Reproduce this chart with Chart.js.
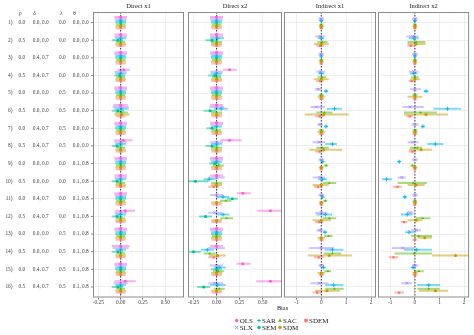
<!DOCTYPE html>
<html lang="en">
<head>
  <meta charset="UTF-8">
  <title>Bias of direct and indirect effects</title>
  <script src="https://cdn.jsdelivr.net/npm/chart.js@4.4.1/dist/chart.umd.min.js"></script>
  <style>
    html, body { margin: 0; padding: 0; background: #ffffff; }
    #wrap { position: relative; width: 474px; height: 335px; overflow: hidden; }
    #wrap canvas { position: absolute; left: 0; top: 0; }
  </style>
</head>
<body>
  <div id="wrap">
    <canvas id="p0" width="474" height="335"></canvas>
    <canvas id="p1" width="474" height="335"></canvas>
    <canvas id="p2" width="474" height="335"></canvas>
    <canvas id="p3" width="474" height="335"></canvas>
  </div>

  <script>
    const models = ["OLS", "SLX", "SAR", "SEM", "SAC", "SDM", "SDEM"];
    const modelColors = ["#FB61D7", "#A58AFF", "#00B6EB", "#00C094", "#53B400", "#C49A00", "#F8766D"];
    const modelShapes = ["circle", "crossRot", "cross", "circle", "triangle", "circle", "rect"];

    const rowIds = ["1)", "2)", "3)", "4)", "5)", "6)", "7)", "8)", "9)", "10)", "11)", "12)", "13)", "14)", "15)", "16)"];
    const rhoLabels = ["0.0", "0.5", "0.0", "0.5", "0.0", "0.5", "0.0", "0.5", "0.0", "0.5", "0.0", "0.5", "0.0", "0.5", "0.0", "0.5"];
    const deltaLabels = ["0.0, 0.0", "0.0, 0.0", "0.4, 0.7", "0.4, 0.7", "0.0, 0.0", "0.0, 0.0", "0.4, 0.7", "0.4, 0.7",
                         "0.0, 0.0", "0.0, 0.0", "0.4, 0.7", "0.4, 0.7", "0.0, 0.0", "0.0, 0.0", "0.4, 0.7", "0.4, 0.7"];
    const lambdaLabels = ["0.0", "0.0", "0.0", "0.0", "0.5", "0.5", "0.5", "0.5", "0.0", "0.0", "0.0", "0.0", "0.5", "0.5", "0.5", "0.5"];
    const thetaLabels = ["0.0, 0.0", "0.0, 0.0", "0.0, 0.0", "0.0, 0.0", "0.0, 0.0", "0.0, 0.0", "0.0, 0.0", "0.0, 0.0",
                         "0.1, 0.8", "0.1, 0.8", "0.1, 0.8", "0.1, 0.8", "0.1, 0.8", "0.1, 0.8", "0.1, 0.8", "0.1, 0.8"];
    const headerLabels = ["ρ", "δ", "λ", "θ"];

    const panelTitles = ["Direct x1", "Direct x2", "Indirect x1", "Indirect x2"];
    const directTicks = [-0.25, 0, 0.25, 0.5];
    const indirectTicks = [-1, 0, 1, 2];

    // rows are models (OLS..SDEM), columns are scenarios 1-16
    const dx1Est = [
      [0, 0, 0, 0.035, 0, 0, 0, 0.03, 0, 0, 0, 0.05, 0, 0, 0, 0.05],
      [0, 0, 0, 0, 0, 0, 0, 0, 0, 0, 0, 0, 0, 0, 0, 0],
      [0, 0, 0, 0, 0, 0.01, 0, 0, 0, 0, 0, 0, 0, 0, 0, 0],
      [0, -0.03, 0, -0.01, 0, -0.03, 0, -0.04, 0, -0.04, 0, -0.04, 0, -0.03, 0, -0.03],
      [0, 0, 0, 0, 0, 0.01, 0, 0, 0, 0, 0, 0, 0, 0, 0, 0],
      [0, 0, 0, 0, 0, 0.01, 0, 0, 0, 0, 0, 0, 0, 0, 0, 0],
      [0, 0, 0, 0, 0, 0, 0, 0, 0, 0, 0, 0, 0, 0, 0, 0]
    ];
    const dx1Lo = [
      [-0.07, -0.07, -0.07, -0.035, -0.07, -0.08, -0.07, -0.07, -0.07, -0.07, -0.07, -0.06, -0.07, -0.1, -0.07, -0.07],
      [-0.07, -0.07, -0.07, -0.07, -0.07, -0.09, -0.07, -0.07, -0.07, -0.07, -0.07, -0.07, -0.07, -0.09, -0.07, -0.08],
      [-0.06, -0.06, -0.06, -0.06, -0.06, -0.07, -0.06, -0.06, -0.06, -0.06, -0.06, -0.06, -0.06, -0.06, -0.06, -0.06],
      [-0.06, -0.1, -0.06, -0.07, -0.06, -0.1, -0.06, -0.1, -0.06, -0.1, -0.06, -0.1, -0.06, -0.1, -0.06, -0.1],
      [-0.05, -0.05, -0.05, -0.05, -0.05, -0.06, -0.05, -0.05, -0.05, -0.05, -0.05, -0.05, -0.05, -0.05, -0.05, -0.05],
      [-0.06, -0.06, -0.06, -0.06, -0.06, -0.07, -0.06, -0.06, -0.06, -0.06, -0.06, -0.06, -0.06, -0.06, -0.06, -0.06],
      [-0.055, -0.055, -0.055, -0.055, -0.055, -0.055, -0.055, -0.055, -0.055, -0.055, -0.055, -0.055, -0.055, -0.055, -0.055, -0.055]
    ];
    const dx1Hi = [
      [0.07, 0.07, 0.07, 0.105, 0.07, 0.08, 0.07, 0.13, 0.07, 0.07, 0.07, 0.16, 0.07, 0.1, 0.07, 0.17],
      [0.07, 0.07, 0.07, 0.07, 0.07, 0.09, 0.07, 0.07, 0.07, 0.07, 0.07, 0.07, 0.07, 0.09, 0.07, 0.08],
      [0.06, 0.06, 0.06, 0.06, 0.06, 0.09, 0.06, 0.06, 0.06, 0.06, 0.06, 0.06, 0.06, 0.06, 0.06, 0.06],
      [0.06, 0.03, 0.06, 0.05, 0.06, 0.04, 0.06, 0.02, 0.06, 0.02, 0.06, 0.02, 0.06, 0.03, 0.06, 0.03],
      [0.05, 0.05, 0.05, 0.05, 0.05, 0.08, 0.05, 0.05, 0.05, 0.05, 0.05, 0.05, 0.05, 0.05, 0.05, 0.05],
      [0.06, 0.06, 0.06, 0.06, 0.06, 0.1, 0.06, 0.06, 0.06, 0.06, 0.06, 0.06, 0.06, 0.06, 0.06, 0.06],
      [0.055, 0.055, 0.055, 0.055, 0.055, 0.055, 0.055, 0.055, 0.055, 0.055, 0.055, 0.055, 0.055, 0.055, 0.055, 0.055]
    ];

    const dx2Est = [
      [0, 0, 0, 0.14, 0, 0, 0, 0.14, 0, 0, 0.285, 0.585, 0, 0, 0.285, 0.585],
      [0, 0, 0, 0, 0, 0, 0, 0, 0, 0, 0, -0.02, 0, 0, 0, -0.02],
      [0, 0.01, 0, 0, 0, 0.05, 0, 0, 0, -0.08, 0.07, 0.07, 0, -0.1, 0.03, 0.01],
      [0, -0.05, 0, -0.02, 0, -0.07, -0.05, -0.05, -0.02, -0.23, 0.17, -0.12, 0, -0.25, 0, -0.14],
      [0, 0, 0, 0, 0, 0, 0, 0, 0.02, 0, 0.1, 0.11, 0, -0.075, 0.02, 0.03],
      [0, 0, 0, 0, 0, 0, 0, 0, 0, 0, 0, 0, 0, 0.01, 0, 0],
      [0, 0, 0, 0, 0, 0, 0, 0, 0, -0.03, 0, 0, 0, -0.03, 0, 0]
    ];
    const dx2Lo = [
      [-0.07, -0.07, -0.07, 0.07, -0.07, -0.07, -0.07, 0.04, -0.07, -0.07, 0.22, 0.44, -0.07, -0.07, 0.22, 0.43],
      [-0.07, -0.07, -0.07, -0.07, -0.07, -0.08, -0.07, -0.07, -0.07, -0.09, -0.07, -0.09, -0.07, -0.09, -0.07, -0.09],
      [-0.06, -0.07, -0.06, -0.06, -0.06, -0.03, -0.06, -0.06, -0.06, -0.14, 0, 0, -0.06, -0.17, -0.03, -0.07],
      [-0.06, -0.12, -0.06, -0.09, -0.06, -0.14, -0.11, -0.12, -0.08, -0.3, 0.11, -0.19, -0.06, -0.33, -0.06, -0.21],
      [-0.05, -0.06, -0.05, -0.05, -0.05, -0.06, -0.05, -0.06, -0.04, -0.06, 0.04, 0.04, -0.05, -0.14, -0.04, -0.03],
      [-0.06, -0.06, -0.06, -0.06, -0.06, -0.06, -0.06, -0.06, -0.06, -0.06, -0.06, -0.06, -0.06, -0.08, -0.06, -0.06],
      [-0.055, -0.055, -0.055, -0.055, -0.055, -0.055, -0.055, -0.055, -0.055, -0.09, -0.055, -0.055, -0.055, -0.09, -0.055, -0.055]
    ];
    const dx2Hi = [
      [0.07, 0.07, 0.07, 0.22, 0.07, 0.07, 0.07, 0.27, 0.07, 0.07, 0.37, 0.73, 0.07, 0.07, 0.37, 0.73],
      [0.07, 0.07, 0.07, 0.07, 0.07, 0.08, 0.07, 0.07, 0.07, 0.09, 0.07, 0.06, 0.07, 0.09, 0.07, 0.07],
      [0.06, 0.08, 0.06, 0.06, 0.06, 0.12, 0.06, 0.06, 0.06, -0.01, 0.14, 0.14, 0.06, -0.03, 0.1, 0.1],
      [0.06, 0.02, 0.06, 0.05, 0.06, 0, 0.01, 0.02, 0.04, -0.09, 0.23, -0.05, 0.06, -0.17, 0.06, -0.07],
      [0.05, 0.06, 0.05, 0.05, 0.05, 0.06, 0.05, 0.06, 0.08, 0.06, 0.16, 0.18, 0.05, -0.01, 0.08, 0.09],
      [0.06, 0.06, 0.06, 0.06, 0.06, 0.06, 0.06, 0.06, 0.06, 0.06, 0.06, 0.06, 0.06, 0.1, 0.06, 0.06],
      [0.055, 0.055, 0.055, 0.055, 0.055, 0.055, 0.055, 0.055, 0.055, 0.03, 0.055, 0.055, 0.055, 0.03, 0.055, 0.055]
    ];

    // OLS and SEM have no indirect effects
    const ix1Est = [
      null,
      [0, -0.05, 0, -0.03, -0.13, -0.2, -0.05, -0.1, 0, -0.05, 0, 0, -0.05, 0, 0, -0.1],
      [0, 0, 0, 0, 0.19, 0.53, 0.19, 0.45, 0.05, 0.05, 0.05, 0.16, 0.15, 0.45, 0.09, 0.5],
      null,
      [0, 0.05, 0, 0.03, 0, 0.13, 0, 0.05, 0.19, 0.32, 0.16, 0.32, 0.29, 0.45, 0.27, 0.53],
      [0, 0, 0, 0, 0, 0.1, 0, 0.1, 0, 0, 0, 0, 0, 0.32, 0, 0.23],
      [0, -0.05, 0, -0.05, 0, -0.07, 0, -0.07, 0, -0.13, 0, -0.08, 0, -0.1, 0, -0.17]
    ];
    const ix1Lo = [
      null,
      [-0.12, -0.25, -0.12, -0.2, -0.25, -0.44, -0.15, -0.35, -0.12, -0.35, -0.12, -0.25, -0.2, -0.5, -0.12, -0.44],
      [-0.07, -0.12, -0.07, -0.12, 0.12, 0.23, 0.12, 0.16, -0.02, -0.13, -0.02, -0.2, 0.08, 0.13, 0.02, 0.16],
      null,
      [-0.08, -0.15, -0.08, -0.15, -0.1, -0.2, -0.1, -0.2, 0.1, 0.05, 0.08, 0.05, 0.12, 0.1, 0.12, 0.16],
      [-0.1, -0.3, -0.1, -0.3, -0.15, -0.67, -0.15, -0.47, -0.1, -0.35, -0.1, -0.35, -0.15, -0.53, -0.15, -0.25],
      [-0.08, -0.2, -0.08, -0.2, -0.1, -0.25, -0.1, -0.25, -0.08, -0.3, -0.08, -0.25, -0.1, -0.3, -0.1, -0.35]
    ];
    const ix1Hi = [
      null,
      [0.12, 0.15, 0.12, 0.15, 0, 0.16, 0.05, 0.15, 0.12, 0.15, 0.12, 0.25, 0.1, 0.5, 0.12, 0.29],
      [0.07, 0.12, 0.07, 0.12, 0.26, 0.83, 0.26, 0.63, 0.12, 0.23, 0.12, 0.43, 0.22, 0.89, 0.16, 0.89],
      null,
      [0.08, 0.25, 0.08, 0.2, 0.1, 0.45, 0.1, 0.3, 0.28, 0.6, 0.24, 0.6, 0.45, 0.8, 0.4, 0.9],
      [0.1, 0.3, 0.1, 0.3, 0.15, 1.1, 0.15, 0.83, 0.1, 0.3, 0.1, 0.4, 0.15, 1.23, 0.15, 0.75],
      [0.08, 0.1, 0.08, 0.1, 0.1, 0.1, 0.1, 0.1, 0.08, 0.05, 0.08, 0.08, 0.1, 0.1, 0.1, 0.02]
    ];

    const ix2Est = [
      null,
      [0, -0.1, 0, -0.05, 0, -0.2, 0, -0.1, 0, -0.53, 0, -0.2, 0.05, -0.5, 0, -0.33],
      [0, -0.05, 0, -0.05, 0.45, 1.32, 0.32, 0.83, -0.64, -1.15, -0.41, -0.31, -0.24, 0.07, -0.07, 0.56],
      null,
      [0, 0.05, 0, 0, 0, 0.23, 0, 0.1, -0.1, -0.07, 0, 0.32, 0.16, -0.04, 0.16, 0.56],
      [0, 0.05, 0, 0, 0, 0.45, 0, 0.25, 0, 0.05, 0, 0.05, 0.4, 1.65, 0, 0.83],
      [0, -0.17, 0, -0.13, 0, -0.21, 0, -0.1, 0, -0.71, 0, -0.44, 0, -0.87, 0, -0.64]
    ];
    const ix2Lo = [
      null,
      [-0.12, -0.35, -0.12, -0.25, -0.2, -0.5, -0.15, -0.3, -0.12, -0.7, -0.12, -0.35, -0.15, -0.93, -0.12, -0.57],
      [-0.07, -0.25, -0.07, -0.2, 0.36, 0.76, 0.25, 0.5, -0.7, -1.33, -0.48, -0.57, -0.4, -0.44, -0.15, 0.09],
      null,
      [-0.08, -0.3, -0.08, -0.15, -0.1, -0.44, -0.1, -0.2, -0.18, -0.7, -0.08, 0.03, -0.17, -0.83, -0.04, 0.1],
      [-0.1, -0.3, -0.1, -0.2, -0.3, -0.44, -0.1, -0.24, -0.1, -0.3, -0.1, -0.3, 0.1, 0.7, -0.1, 0.16],
      [-0.08, -0.3, -0.08, -0.25, -0.1, -0.35, -0.1, -0.25, -0.08, -0.9, -0.08, -0.57, -0.1, -1.07, -0.1, -0.83]
    ];
    const ix2Hi = [
      null,
      [0.12, 0.15, 0.12, 0.15, 0.25, 0.36, 0.15, 0.15, 0.12, -0.37, 0.12, -0.05, 0.25, -0.04, 0.15, -0.1],
      [0.07, 0.15, 0.07, 0.1, 0.56, 1.87, 0.4, 1.15, -0.58, -0.93, -0.34, -0.1, -0.04, 0.69, 0, 1.03],
      null,
      [0.08, 0.43, 0.08, 0.15, 0.1, 0.89, 0.1, 0.3, -0.02, 0.48, 0.08, 0.63, 0.69, 0.7, 0.36, 1.0],
      [0.1, 0.43, 0.1, 0.2, 0.3, 1.35, 0.1, 0.7, 0.1, 0.4, 0.1, 0.3, 0.7, 2.4, 0.1, 1.35],
      [0.08, -0.04, 0.08, 0.0, 0.1, -0.07, 0.1, 0.05, 0.08, -0.52, 0.08, -0.31, 0.1, -0.67, 0.1, -0.45]
    ];

    // layout of the four facets (pixels)
    const panelBoxes = [
      { left: 93, right: 184 },
      { left: 188, right: 282 },
      { left: 284, right: 376 },
      { left: 378, right: 472 }
    ];
    const panelTop = 12;
    const panelBottom = 297.5;
    const dodgeWidth = 0.75;
    const serif = "'Liberation Serif', 'DejaVu Serif', serif";
    const textGrey = "#3A3A3A";

    function withAlpha(hex, a) {
      const n = parseInt(hex.slice(1), 16);
      return `rgba(${(n >> 16) & 255}, ${(n >> 8) & 255}, ${n & 255}, ${a})`;
    }

    function drawMarker(ctx, shape, color, x, y, r) {
      ctx.save();
      ctx.fillStyle = color;
      ctx.strokeStyle = color;
      ctx.lineWidth = 1;
      ctx.beginPath();
      if (shape === "circle") {
        ctx.arc(x, y, r, 0, Math.PI * 2);
        ctx.fill();
      } else if (shape === "rect") {
        ctx.fillRect(x - r, y - r, 2 * r, 2 * r);
      } else if (shape === "triangle") {
        ctx.moveTo(x, y - r * 1.2);
        ctx.lineTo(x + r * 1.1, y + r * 0.8);
        ctx.lineTo(x - r * 1.1, y + r * 0.8);
        ctx.closePath();
        ctx.fill();
      } else if (shape === "cross") {
        ctx.moveTo(x - r, y); ctx.lineTo(x + r, y);
        ctx.moveTo(x, y - r); ctx.lineTo(x, y + r);
        ctx.stroke();
      } else {
        ctx.moveTo(x - r, y - r); ctx.lineTo(x + r, y + r);
        ctx.moveTo(x - r, y + r); ctx.lineTo(x + r, y - r);
        ctx.stroke();
      }
      ctx.restore();
    }

    const decorPlugin = {
      id: "decor",
      afterDraw(chart, args, opts) {
        const { ctx, chartArea: a } = chart;
        const yScale = chart.scales.y;
        ctx.save();

        // panel border
        ctx.strokeStyle = "#8C8C8C";
        ctx.lineWidth = 1;
        ctx.strokeRect(a.left + 0.5, a.top + 0.5, a.right - a.left - 1, a.bottom - a.top - 1);

        // strip title
        ctx.fillStyle = "#1A1A1A";
        ctx.font = `6.5px ${serif}`;
        ctx.textAlign = "center";
        ctx.textBaseline = "middle";
        ctx.fillText(opts.title, (a.left + a.right) / 2, 6);

        if (opts.rowLabels) {
          ctx.fillStyle = textGrey;
          ctx.font = `5.3px ${serif}`;
          ctx.textBaseline = "middle";
          const hx = [19, 33.3, 60, 73.3];
          ctx.textAlign = "left";
          headerLabels.forEach((h, i) => ctx.fillText(h, hx[i], 13.3));
          rowIds.forEach((id, r) => {
            const y = yScale.getPixelForValue(r + 1);
            ctx.textAlign = "right";
            ctx.fillText(id, 12.5, y);
            ctx.textAlign = "left";
            ctx.fillText(rhoLabels[r], 18.5, y);
            ctx.fillText(deltaLabels[r], 32.8, y);
            ctx.fillText(lambdaLabels[r], 59, y);
            ctx.fillText(thetaLabels[r], 72.8, y);
            ctx.strokeStyle = "#333333";
            ctx.lineWidth = 0.6;
            ctx.beginPath();
            ctx.moveTo(a.left - 2, y);
            ctx.lineTo(a.left, y);
            ctx.stroke();
          });
        }

        if (opts.legend) {
          ctx.fillStyle = "#1A1A1A";
          ctx.font = `6.3px ${serif}`;
          ctx.textAlign = "center";
          ctx.fillText("Bias", 282.5, 308.5);

          const colX = [236.7, 259, 280, 306];
          const rowY = [320.5, 327.5];
          ctx.font = `7px ${serif}`;
          ctx.textAlign = "left";
          models.forEach((m, k) => {
            const col = Math.floor(k / 2);
            const row = k % 2;
            const x = colX[col];
            const y = rowY[row];
            drawMarker(ctx, modelShapes[k], modelColors[k], x, y, 1.7);
            ctx.fillStyle = "#1A1A1A";
            ctx.fillText(m, x + 3, y + 0.3);
          });
        }
        ctx.restore();
      }
    };

    function buildPanel(idx, est, lo, hi, xMin, xMax, majorTicks) {
      const box = panelBoxes[idx];
      const step = dodgeWidth / models.length;
      const minorTicks = [];
      for (let i = 0; i < majorTicks.length - 1; i++) {
        minorTicks.push((majorTicks[i] + majorTicks[i + 1]) / 2);
      }
      minorTicks.push(majorTicks[0] - (majorTicks[1] - majorTicks[0]) / 2);
      minorTicks.push(majorTicks[majorTicks.length - 1] + (majorTicks[1] - majorTicks[0]) / 2);
      const isMajor = v => majorTicks.some(t => Math.abs(t - v) < 1e-9);

      const datasets = [];
      datasets.push({
        type: "line",
        data: [{ x: 0, y: 0.4 }, { x: 0, y: 16.6 }],
        borderColor: "#000000",
        borderWidth: 0.8,
        borderDash: [1.5, 1.5],
        pointRadius: 0,
        order: 2
      });

      models.forEach((m, k) => {
        if (!est[k]) return;
        const yOff = (k - (models.length - 1) / 2) * step;
        const seg = [];
        const pts = [];
        est[k].forEach((v, r) => {
          const y = r + 1 + yOff;
          seg.push({ x: lo[k][r], y: y }, { x: hi[k][r], y: y }, { x: null, y: null });
          pts.push({ x: v, y: y });
        });
        datasets.push({
          type: "line",
          label: m + " interval",
          data: seg,
          borderColor: withAlpha(modelColors[k], 0.5),
          borderWidth: 2,
          pointRadius: 0,
          spanGaps: false,
          order: 3
        });
        const lineStyle = modelShapes[k] === "cross" || modelShapes[k] === "crossRot";
        datasets.push({
          type: "scatter",
          label: m,
          data: pts,
          pointStyle: modelShapes[k],
          pointRadius: lineStyle ? 2 : 1.5,
          backgroundColor: modelColors[k],
          borderColor: modelColors[k],
          borderWidth: lineStyle ? 0.9 : 0,
          order: 1
        });
      });

      return new Chart(document.getElementById("p" + idx), {
        type: "scatter",
        data: { datasets: datasets },
        plugins: [decorPlugin],
        options: {
          responsive: false,
          animation: false,
          events: [],
          layout: {
            padding: { left: box.left, right: 474 - box.right, top: panelTop, bottom: 335 - panelBottom - 14 }
          },
          plugins: {
            legend: { display: false },
            tooltip: { enabled: false },
            decor: { title: panelTitles[idx], rowLabels: idx === 0, legend: idx === 3 }
          },
          scales: {
            x: {
              type: "linear",
              min: xMin,
              max: xMax,
              afterBuildTicks: s => {
                s.ticks = majorTicks.concat(minorTicks).filter(v => v > xMin && v < xMax)
                  .sort((p, q) => p - q).map(v => ({ value: v }));
              },
              afterFit: s => {
                s.height = 14;
                s.paddingLeft = 0;
                s.paddingRight = 0;
              },
              border: { display: false },
              grid: {
                color: c => (c.tick && isMajor(c.tick.value)) ? "#E6E6E6" : "#F2F2F2",
                lineWidth: c => (c.tick && isMajor(c.tick.value)) ? 0.7 : 0.4,
                tickColor: c => (c.tick && isMajor(c.tick.value)) ? "#333333" : "rgba(0,0,0,0)",
                tickLength: 2,
                drawTicks: true
              },
              ticks: {
                autoSkip: false,
                maxRotation: 0,
                padding: 0,
                color: textGrey,
                font: { family: serif, size: 5.3 },
                callback: v => {
                  if (!isMajor(v)) return "";
                  if (majorTicks === directTicks) return v.toFixed(2);
                  return String(v);
                }
              }
            },
            y: {
              type: "linear",
              min: 0.4,
              max: 16.6,
              reverse: true,
              afterBuildTicks: s => {
                s.ticks = rowIds.map((id, r) => ({ value: r + 1 }));
              },
              afterFit: s => { s.width = 0; },
              border: { display: false },
              grid: { color: "#E6E6E6", lineWidth: 0.7, drawTicks: false },
              ticks: { display: false }
            }
          }
        }
      });
    }

    buildPanel(0, dx1Est, dx1Lo, dx1Hi, -0.31, 0.71, directTicks);
    buildPanel(1, dx2Est, dx2Lo, dx2Hi, -0.31, 0.71, directTicks);
    buildPanel(2, ix1Est, ix1Lo, ix1Hi, -1.5, 2.2, indirectTicks);
    buildPanel(3, ix2Est, ix2Lo, ix2Hi, -1.5, 2.2, indirectTicks);
  </script>
</body>
</html>
